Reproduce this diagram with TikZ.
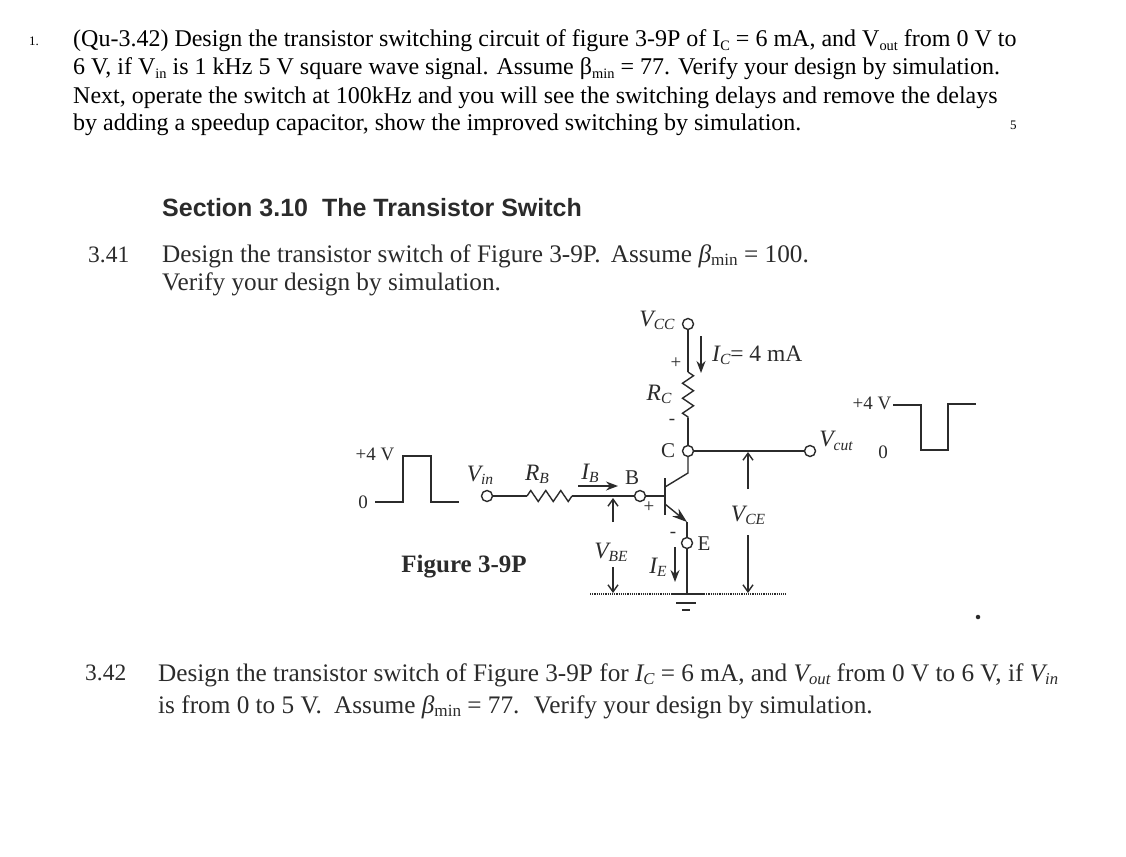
\documentclass[tikz,border=0pt]{standalone}
\usepackage{fontspec}
\setmainfont{Liberation Serif}
\newfontfamily\headfont{Liberation Sans}
\usetikzlibrary{arrows.meta,decorations.pathmorphing}
\definecolor{inkc}{HTML}{2B2B2B}
\newcommand{\lowsub}[1]{\raisebox{-.28ex}{\scalebox{.68}{#1}}}
\newcommand{\topsub}[1]{\raisebox{-.28ex}{\scalebox{.6}{#1}}}
\newcommand{\lowit}[1]{\raisebox{-.3ex}{\scalebox{.66}{\itshape #1}}}
\tikzset{
	wire/.style={line width=1.4pt, color=inkc},
	dotline/.style={line width=1.6pt, color=inkc, dash pattern=on 1.2pt off 1pt},
	term/.style={circle, draw=inkc, line width=1.4pt, fill=white, minimum size=11pt, inner sep=0pt},
	res/.style={wire, decorate, decoration={zigzag, segment length=15pt, amplitude=5.5pt}},
	solidarrow/.style={wire, -{Stealth[length=12pt,width=9pt]}},
	bigarrow/.style={wire, -{Stealth[length=15pt,width=10pt]}},
	openarrow/.style={wire, -{Straight Barb[length=7pt,width=10pt]}},
	bodytext/.style={anchor=base west, inner sep=0pt, font=\fontsize{24pt}{26pt}\selectfont},
	scantext/.style={anchor=base west, inner sep=0pt, color=inkc, font=\fontsize{25.25pt}{27pt}\selectfont},
	tinytext/.style={anchor=base west, inner sep=0pt, font=\fontsize{13pt}{15pt}\selectfont},
	circtext/.style={inner sep=0pt, color=inkc, font=\fontsize{23.5pt}{25pt}\selectfont},
	circletter/.style={inner sep=0pt, color=inkc, font=\fontsize{21pt}{23pt}\selectfont},
	circsmall/.style={inner sep=0pt, color=inkc, font=\fontsize{19pt}{21pt}\selectfont}
}
\begin{document}
\begin{tikzpicture}[x=1pt, y=-1pt]
	\useasboundingbox[fill=white] (0, 0) rectangle (1126, 856);

	%%%%% QUESTION %%%%%
	\node[tinytext] (qnum) at (29, 46) {1.};
	\node[bodytext] (qlinea) at (73, 47) {(Qu-3.42) Design the transistor switching circuit of figure 3-9P of I\topsub{C} = 6 mA, and V\topsub{out} from 0 V to};
	\node[bodytext] (qlineb) at (73, 75) {6 V, if V\topsub{in} is 1 kHz 5 V square wave signal. Assume β\topsub{min} = 77. Verify your design by simulation.};
	\node[bodytext] (qlinec) at (73, 103) {Next, operate the switch at 100kHz and you will see the switching delays and remove the delays};
	\node[bodytext] (qlined) at (73, 131) {by adding a speedup capacitor, show the improved switching by simulation.};
	\node[tinytext] (qmark) at (1010, 129) {5};

	%%%%% SCANNED PAGE %%%%%
	\node[anchor=base west, inner sep=0pt, color=inkc, font=\headfont\bfseries\fontsize{25pt}{27pt}\selectfont] (sechead) at (162, 216) {Section 3.10\hspace{7pt} The Transistor Switch};
	\node[scantext, font=\fontsize{23.5pt}{25pt}\selectfont] (pnuma) at (88, 262) {3.41};
	\node[scantext] (palinea) at (162, 262) {Design the transistor switch of Figure 3-9P.\hspace{4pt} Assume {\itshape β}\lowsub{min} = 100.};
	\node[scantext] (palineb) at (162, 290) {Verify your design by simulation.};
	\node[scantext, font=\fontsize{23.5pt}{25pt}\selectfont] (pnumb) at (85, 680) {3.42};
	\node[scantext] (pblinea) at (158, 681) {Design the transistor switch of Figure 3-9P for {\itshape I}\lowit{C} = 6 mA, and {\itshape V}\lowit{out} from 0 V to 6 V, if {\itshape V}\lowit{in}};
	\node[scantext] (pblineb) at (158, 713) {is from 0 to 5 V.\hspace{6pt} Assume {\itshape β}\lowsub{min} = 77.\hspace{6pt} Verify your design by simulation.};
	\node[fill=inkc, circle, inner sep=0pt, minimum size=4.5pt] (speck) at (978, 617) {};

	%%%%% CIRCUIT NODES %%%%%
	\node[term] (vcc) at (688, 324) {};
	\coordinate (rctop) at (688, 372);
	\coordinate (rcbot) at (688, 418);
	\node[term] (cnode) at (688, 451) {};
	\coordinate (ctail) at (688, 473);
	\coordinate (cbar) at (665, 487);
	\coordinate (ebar) at (665, 504);
	\coordinate (etail) at (687, 522);
	\node[term] (enode) at (687, 543) {};
	\coordinate (gnd) at (687, 594);
	\node[term] (vout) at (810, 451) {};
	\node[term] (vin) at (487, 496) {};
	\coordinate (rbleft) at (527, 496);
	\coordinate (rbright) at (572, 496);
	\node[term] (bnode) at (640, 496) {};
	\coordinate (bbar) at (665, 496);

	%%%%% CIRCUIT %%%%%
	\draw[wire] (vcc) -- (rctop);
	\draw[res] (rctop) -- (rcbot);
	\draw[wire] (rcbot) -- (cnode);
	\draw[wire] (cnode) -- (vout);
	\draw[wire] (cnode) -- (ctail) -- (cbar);
	\draw[wire] (vin) -- (rbleft);
	\draw[res] (rbleft) -- (rbright);
	\draw[wire] (rbright) -- (bnode);
	\draw[wire] (bnode) -- (bbar);
	\draw[line width=2.2pt, color=inkc] (665, 478) -- (665, 515);
	\draw[bigarrow] (ebar) -- (etail);
	\draw[wire] (etail) -- (enode);
	\draw[wire] (enode) -- (gnd);

	\draw[dotline] (590, 594) -- (672, 594);
	\draw[wire] (672, 594) -- (704, 594);
	\draw[dotline] (704, 594) -- (786, 594);
	\draw[wire] (676, 603) -- (696, 603);
	\draw[wire] (682, 610) -- (690, 610);

	%%%%% ARROWS %%%%%
	\draw[solidarrow] (701, 336) -- (701, 373);
	\draw[solidarrow] (578, 486) -- (618, 486);
	\draw[solidarrow] (675, 547) -- (675, 582);
	\draw[openarrow] (613, 522) -- (613, 498);
	\draw[openarrow] (613, 567) -- (613, 593);
	\draw[openarrow] (748, 489) -- (748, 452);
	\draw[openarrow] (748, 535) -- (748, 593);

	%%%%% WAVES %%%%%
	\draw[wire] (375, 502) -- (403, 502) -- (403, 456) -- (431, 456) -- (431, 502) -- (459, 502);
	\draw[wire] (893, 405) -- (921, 405) -- (921, 450) -- (948, 450) -- (948, 404) -- (976, 404);

	%%%%% LABELS %%%%%
	\node[circtext] (vcclab) at (657, 320) {{\itshape V}\lowit{CC}};
	\node[circtext, anchor=west] (iclab) at (712, 355) {{\itshape I}\lowit{C}= 4 mA};
	\node[circsmall] (rcplus) at (676, 363) {+};
	\node[circtext] (rclab) at (659, 394) {{\itshape R}\lowit{C}};
	\node[circsmall] (rcminus) at (672, 422) {-};
	\node[circletter] (clab) at (668, 451) {C};
	\node[circsmall] (p4r) at (872, 403) {+4 V};
	\node[circsmall] (zeror) at (883, 452) {0};
	\node[circtext] (voutlab) at (836, 441) {{\itshape V}\lowit{cut}};
	\node[circsmall] (p4l) at (375, 454) {+4 V};
	\node[circsmall] (zerol) at (363, 502) {0};
	\node[circtext] (vinlab) at (480, 475) {{\itshape V}\lowit{in}};
	\node[circtext] (rblab) at (537, 474) {{\itshape R}\lowit{B}};
	\node[circtext] (iblab) at (590, 473) {{\itshape I}\lowit{B}};
	\node[circletter] (blab) at (632, 478) {B};
	\node[circsmall] (bplus) at (649, 507) {+};
	\node[circsmall] (eminus) at (673, 535) {-};
	\node[circletter] (elab) at (704, 544) {E};
	\node[circtext] (vcelab) at (748, 515) {{\itshape V}\lowit{CE}};
	\node[circtext] (vbelab) at (611, 552) {{\itshape V}\lowit{BE}};
	\node[circtext] (ielab) at (658, 567) {{\itshape I}\lowit{E}};
	\node[circtext, font=\bfseries\fontsize{25pt}{27pt}\selectfont] (figlab) at (464, 567) {Figure 3-9P};
\end{tikzpicture}
\end{document}
